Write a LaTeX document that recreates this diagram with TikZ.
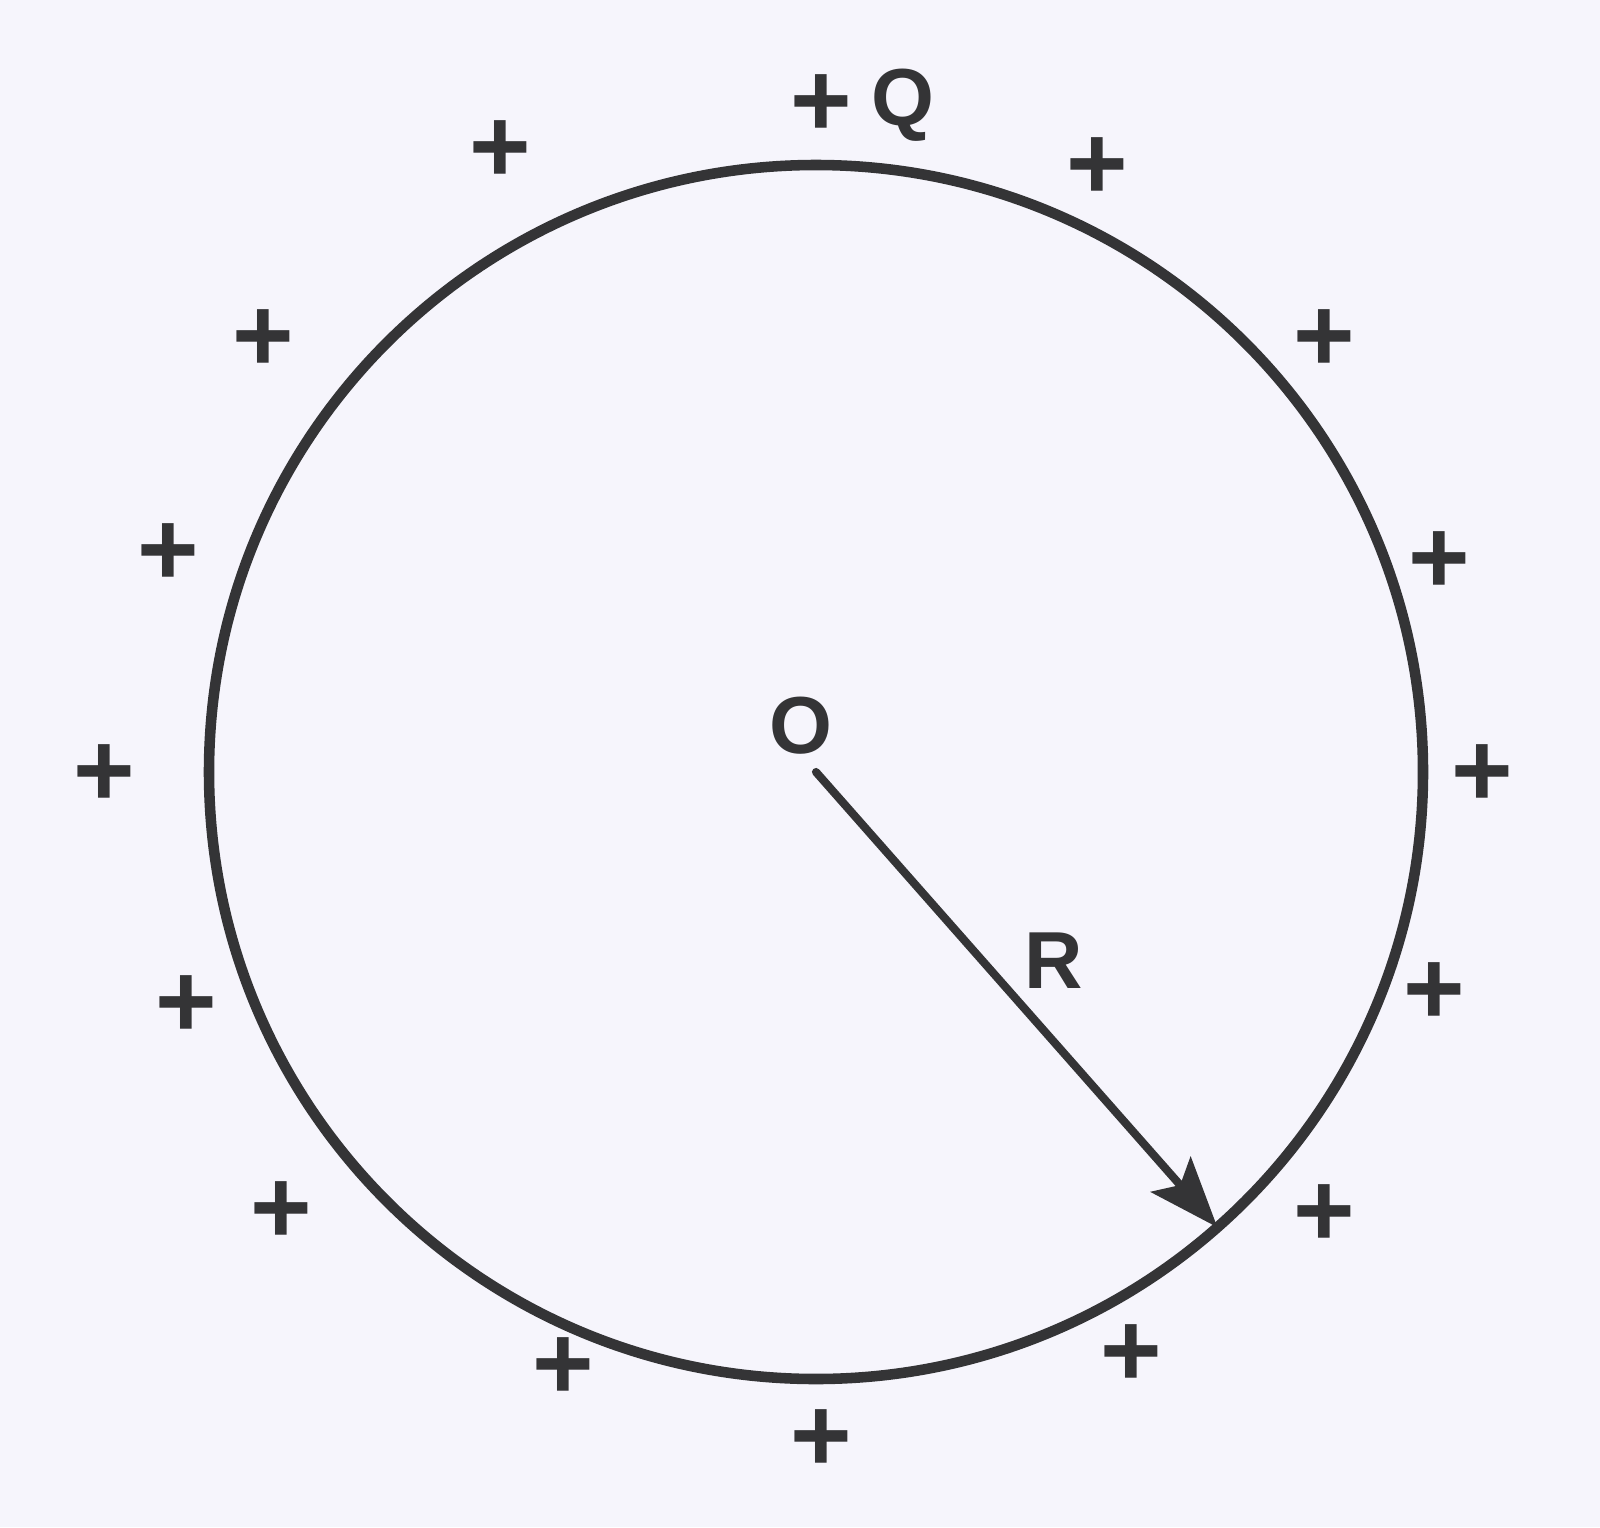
\documentclass[tikz,border=0pt]{standalone}
\usepackage{fontspec}
\setmainfont{Liberation Sans}
\usetikzlibrary{arrows.meta,positioning,calc}
\definecolor{ink}{RGB}{52,52,54}
\definecolor{paper}{RGB}{246,245,252}
\tikzset{
  charge/.style={text=ink,inner sep=0pt,font=\bfseries\fontsize{30}{30}\selectfont},
  lbl/.style={text=ink,inner sep=0pt,font=\bfseries\fontsize{23}{23}\selectfont},
}

\begin{document}
\begin{tikzpicture}[x=0.01cm,y=-0.01cm]
\fill[paper] (0,0) rectangle (1600,1527);
\useasboundingbox (0,0) rectangle (1600,1527);
\coordinate (c) at (816,772);
\draw[ink,line width=3pt] (c) circle (607);
\coordinate (rim) at ($(c)+(48.6:607)$);
% charges round the sphere
\node[charge] (p1) at (821,106) {+};
\node[charge] (p2) at (500,152) {+};
\node[charge] (p3) at (1097,169) {+};
\node[charge] (p4) at (263,341) {+};
\node[charge] (p5) at (1324,341) {+};
\node[charge] (p6) at (168,555) {+};
\node[charge] (p7) at (1439,563) {+};
\node[charge] (p8) at (104,776) {+};
\node[charge] (p9) at (1482,776) {+};
\node[charge] (p10) at (186,1007) {+};
\node[charge] (p11) at (1434,994) {+};
\node[charge] (p12) at (281,1213) {+};
\node[charge] (p13) at (1324,1216) {+};
\node[charge] (p14) at (563,1369) {+};
\node[charge] (p15) at (1131,1356) {+};
\node[charge] (p16) at (821,1441) {+};
\node[lbl] (q) at (903,105) {Q};
\node[lbl] (o) at (801,726) {O};
\node[lbl] (r) at (1054,961) {R};
\draw[ink,line width=2.3pt,line cap=round,-{Stealth[length=20pt,width=15pt,inset=4pt]}] (c) -- (rim);
\end{tikzpicture}
\end{document}
